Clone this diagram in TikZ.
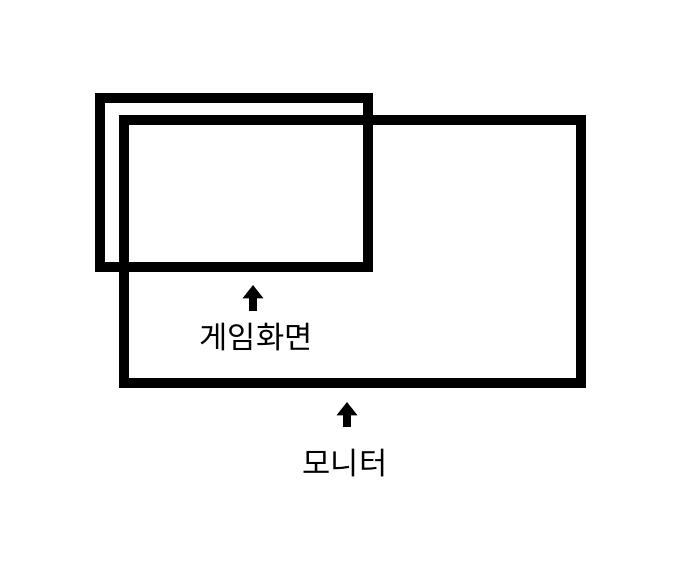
\documentclass[tikz,border=0pt]{standalone}
\usepackage{fontspec}
\newfontfamily\krfont{Noto Sans CJK KR}
\usetikzlibrary{arrows.meta, positioning}

\tikzset{
	frame/.style={draw, line width=7.5pt, inner sep=0pt},
	pointer/.style={-{Triangle[width=15pt, length=10pt]}, line width=6pt},
	caption/.style={font=\krfont\fontsize{23pt}{26pt}\selectfont, inner sep=0pt}
}

\begin{document}
\begin{tikzpicture}[x=0.75pt, y=-0.75pt]
		\useasboundingbox (0, 0) rectangle (696, 564);

		\node[frame, minimum width=201pt, minimum height=127pt] (game) at (234, 182.75) {};
		\node[frame, minimum width=342.75pt, minimum height=197.25pt] (monitor) at (352.5, 251.5) {};

		\coordinate (gametip) at (253, 285);
		\coordinate (gametail) at (253, 311);
		\node[caption] (gamelabel) at (256, 337) {게임화면};

		\coordinate (montip) at (347, 402);
		\coordinate (montail) at (347, 427);
		\node[caption] (monlabel) at (345, 463) {모니터};

		\draw[pointer] (gametail) -- (gametip);
		\draw[pointer] (montail) -- (montip);
	\end{tikzpicture}
\end{document}
